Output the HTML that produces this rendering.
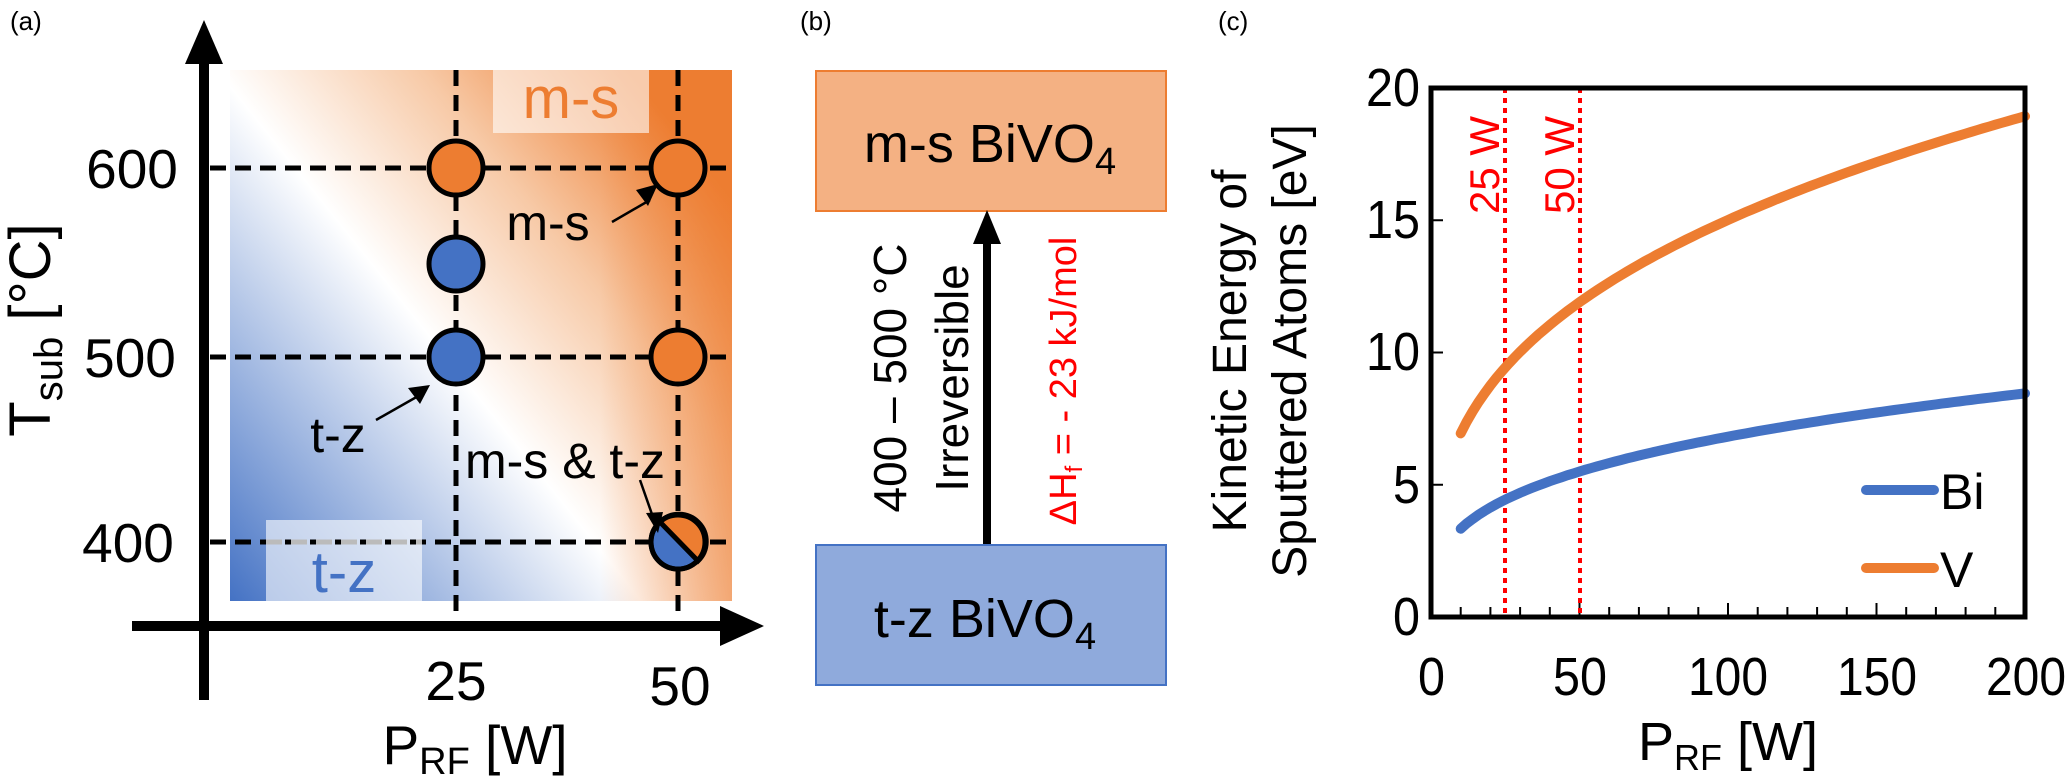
<!DOCTYPE html>
<html><head><meta charset="utf-8"><style>
html,body{margin:0;padding:0;background:#fff;}
svg{display:block;font-family:"Liberation Sans",Arial,sans-serif;}
</style></head><body>
<svg id="s" width="2069" height="781" viewBox="0 0 2069 781" xmlns="http://www.w3.org/2000/svg">
<defs>
<linearGradient id="g" gradientUnits="userSpaceOnUse" x1="230" y1="601" x2="732" y2="200">
<stop offset="0" stop-color="#4472c4"/>
<stop offset="0.5" stop-color="#ffffff"/>
<stop offset="0.75" stop-color="#f7c9a6"/>
<stop offset="1" stop-color="#ed7d31"/>
</linearGradient>
<linearGradient id="g2" gradientUnits="userSpaceOnUse" x1="600" y1="0" x2="732" y2="0">
<stop offset="0" stop-color="#ed7d31" stop-opacity="0"/>
<stop offset="1" stop-color="#ed7d31" stop-opacity="0.6"/>
</linearGradient>
</defs>
<!-- Panel a -->
<text x="10" y="30" font-size="26">(a)</text>
<rect x="230" y="70" width="502" height="531" fill="url(#g)"/>
<rect x="600" y="70" width="132" height="531" fill="url(#g2)"/>
<rect x="266" y="520" width="156" height="81" fill="#fff" opacity="0.6"/>
<rect x="493" y="70" width="156" height="63" fill="#fff" opacity="0.6"/>
<text x="571" y="118" font-size="58" fill="#ed7d31" text-anchor="middle">m-s</text>
<text x="344" y="592" font-size="58" fill="#4472c4" text-anchor="middle">t-z</text>
<g stroke="#000" stroke-width="5" stroke-dasharray="16,9">
<line x1="210" y1="168" x2="732" y2="168"/>
<line x1="210" y1="357" x2="732" y2="357"/>
<line x1="210" y1="542" x2="732" y2="542"/>
<line x1="456" y1="70" x2="456" y2="620"/>
<line x1="678" y1="70" x2="678" y2="620"/>
</g>
<line x1="266" y1="542" x2="422" y2="542" stroke="#bbb" stroke-width="5" stroke-dasharray="16,9"/>
<line x1="204" y1="60" x2="204" y2="700" stroke="#000" stroke-width="10"/>
<polygon points="204,20 185,64 223,64" fill="#000"/>
<line x1="132" y1="626" x2="730" y2="626" stroke="#000" stroke-width="10"/>
<polygon points="764,626 720,606 720,646" fill="#000"/>
<g stroke="#000" stroke-width="5">
<circle cx="456" cy="168" r="27" fill="#ed7d31"/>
<circle cx="456" cy="264" r="27" fill="#4472c4"/>
<circle cx="456" cy="357" r="27" fill="#4472c4"/>
<circle cx="678" cy="168" r="27" fill="#ed7d31"/>
<circle cx="678" cy="357" r="27" fill="#ed7d31"/>
<circle cx="678" cy="542" r="27" fill="#4472c4"/>
<path d="M 660 522 A 27 27 0 0 1 698 561 Z" fill="#ed7d31"/>
<circle cx="678" cy="542" r="27" fill="none"/>
</g>
<g font-size="55" text-anchor="middle">
<text x="132" y="188">600</text>
<text x="130" y="377">500</text>
<text x="128" y="562">400</text>
<text x="456" y="700">25</text>
<text x="680" y="705">50</text>
<text x="475" y="764">P<tspan font-size="38" dy="10">RF</tspan><tspan dy="-10"> [W]</tspan></text>
</g>
<text transform="translate(50,330) rotate(-90)" font-size="58" text-anchor="middle">T<tspan font-size="40" dy="12">sub</tspan><tspan dy="-12"> [°C]</tspan></text>
<g font-size="50" text-anchor="middle">
<text x="548" y="240">m-s</text>
<text x="338" y="452">t-z</text>
<text x="565" y="478">m-s &amp; t-z</text>
</g>
<g stroke="#000" stroke-width="2.5">
<line x1="612" y1="222" x2="650" y2="200"/>
<line x1="376" y1="420" x2="420" y2="395"/>
<line x1="640" y1="480" x2="654" y2="520"/>
</g>
<polygon points="658,184 636,190 648,206" fill="#000"/>
<polygon points="430,385 408,388 420,404" fill="#000"/>
<polygon points="658,533 646,513 663,512" fill="#000"/>
<!-- Panel b -->
<text x="800" y="30" font-size="26">(b)</text>
<rect x="816" y="71" width="350" height="140" fill="#f4b183" stroke="#ed7d31" stroke-width="2"/>
<rect x="816" y="545" width="350" height="140" fill="#8faadc" stroke="#4472c4" stroke-width="2"/>
<text x="990" y="162" font-size="54" text-anchor="middle">m-s BiVO<tspan font-size="38" dy="12">4</tspan></text>
<text x="985" y="637" font-size="54" text-anchor="middle">t-z BiVO<tspan font-size="38" dy="12">4</tspan></text>
<line x1="987" y1="544" x2="987" y2="240" stroke="#000" stroke-width="8"/>
<polygon points="987,210 973,244 1001,244" fill="#000"/>
<text transform="translate(906,378) rotate(-90)" font-size="46" text-anchor="middle">400 – 500 °C</text>
<text transform="translate(968,378) rotate(-90)" font-size="46" text-anchor="middle">Irreversible</text>
<text transform="translate(1076,381) rotate(-90)" font-size="38" fill="#ff0000" text-anchor="middle">ΔH<tspan font-size="24" dy="6">f</tspan><tspan dy="-6"> = - 23 kJ/mol</tspan></text>
<!-- Panel c -->
<text x="1218" y="30" font-size="26">(c)</text>
<text transform="translate(1246,351) rotate(-90)" font-size="48" text-anchor="middle">Kinetic Energy of</text>
<text transform="translate(1306,351) rotate(-90)" font-size="48" text-anchor="middle">Sputtered Atoms [eV]</text>
<g id="ticks" stroke="#000" stroke-width="2"></g>
<g stroke="#ff0000" stroke-width="4" stroke-dasharray="5,5">
<line x1="1505" y1="88" x2="1505" y2="617"/>
<line x1="1580" y1="88" x2="1580" y2="617"/>
</g>
<text transform="translate(1499,214) rotate(-90)" font-size="42" fill="#ff0000">25 W</text>
<text transform="translate(1574,214) rotate(-90)" font-size="42" fill="#ff0000">50 W</text>
<path id="v" fill="none" stroke="#ed7d31" stroke-width="10" stroke-linecap="round"/>
<path id="b" fill="none" stroke="#4472c4" stroke-width="10" stroke-linecap="round"/>
<rect x="1431" y="88" width="594" height="529" fill="none" stroke="#000" stroke-width="5"/>
<g font-size="54" text-anchor="end">
<text x="1420" y="106" textLength="54" lengthAdjust="spacingAndGlyphs">20</text>
<text x="1420" y="238" textLength="54" lengthAdjust="spacingAndGlyphs">15</text>
<text x="1420" y="370" textLength="54" lengthAdjust="spacingAndGlyphs">10</text>
<text x="1420" y="503" textLength="27" lengthAdjust="spacingAndGlyphs">5</text>
<text x="1420" y="635" textLength="27" lengthAdjust="spacingAndGlyphs">0</text>
</g>
<g font-size="54">
<text x="1418" y="695" textLength="27" lengthAdjust="spacingAndGlyphs">0</text>
<text x="1553" y="695" textLength="54" lengthAdjust="spacingAndGlyphs">50</text>
<text x="1688" y="695" textLength="80" lengthAdjust="spacingAndGlyphs">100</text>
<text x="1837" y="695" textLength="80" lengthAdjust="spacingAndGlyphs">150</text>
<text x="1986" y="695" textLength="80" lengthAdjust="spacingAndGlyphs">200</text>
</g>
<text x="1728" y="760" font-size="54" text-anchor="middle">P<tspan font-size="36" dy="10">RF</tspan><tspan dy="-10"> [W]</tspan></text>
<line x1="1866" y1="490" x2="1934" y2="490" stroke="#4472c4" stroke-width="10" stroke-linecap="round"/>
<line x1="1866" y1="568" x2="1934" y2="568" stroke="#ed7d31" stroke-width="10" stroke-linecap="round"/>
<text x="1940" y="509" font-size="50">Bi</text>
<text x="1940" y="587" font-size="50">V</text>
</svg>
<script>
var X=function(p){return 1431+2.97*p},Y=function(v){return 617-26.45*v};
var dv="",db="";
for(var p=10;p<=200;p+=2){var v=11.9*Math.pow(p/50,0.335),b=5.5*Math.pow(p/50,0.31);
dv+=(p==10?"M":"L")+X(p).toFixed(1)+" "+Y(v).toFixed(1)+" ";db+=(p==10?"M":"L")+X(p).toFixed(1)+" "+Y(b).toFixed(1)+" ";}
document.getElementById("v").setAttribute("d",dv);document.getElementById("b").setAttribute("d",db);
var t="";for(var p=10;p<200;p+=10){var L=(p%50==0)?14:10;t+='<line x1="'+X(p)+'" y1="617" x2="'+X(p)+'" y2="'+(617-L)+'"/>';}
for(var v=5;v<20;v+=5){t+='<line x1="1431" y1="'+Y(v)+'" x2="1443" y2="'+Y(v)+'"/>';}
document.getElementById("ticks").innerHTML=t;
</script>
</body></html>
